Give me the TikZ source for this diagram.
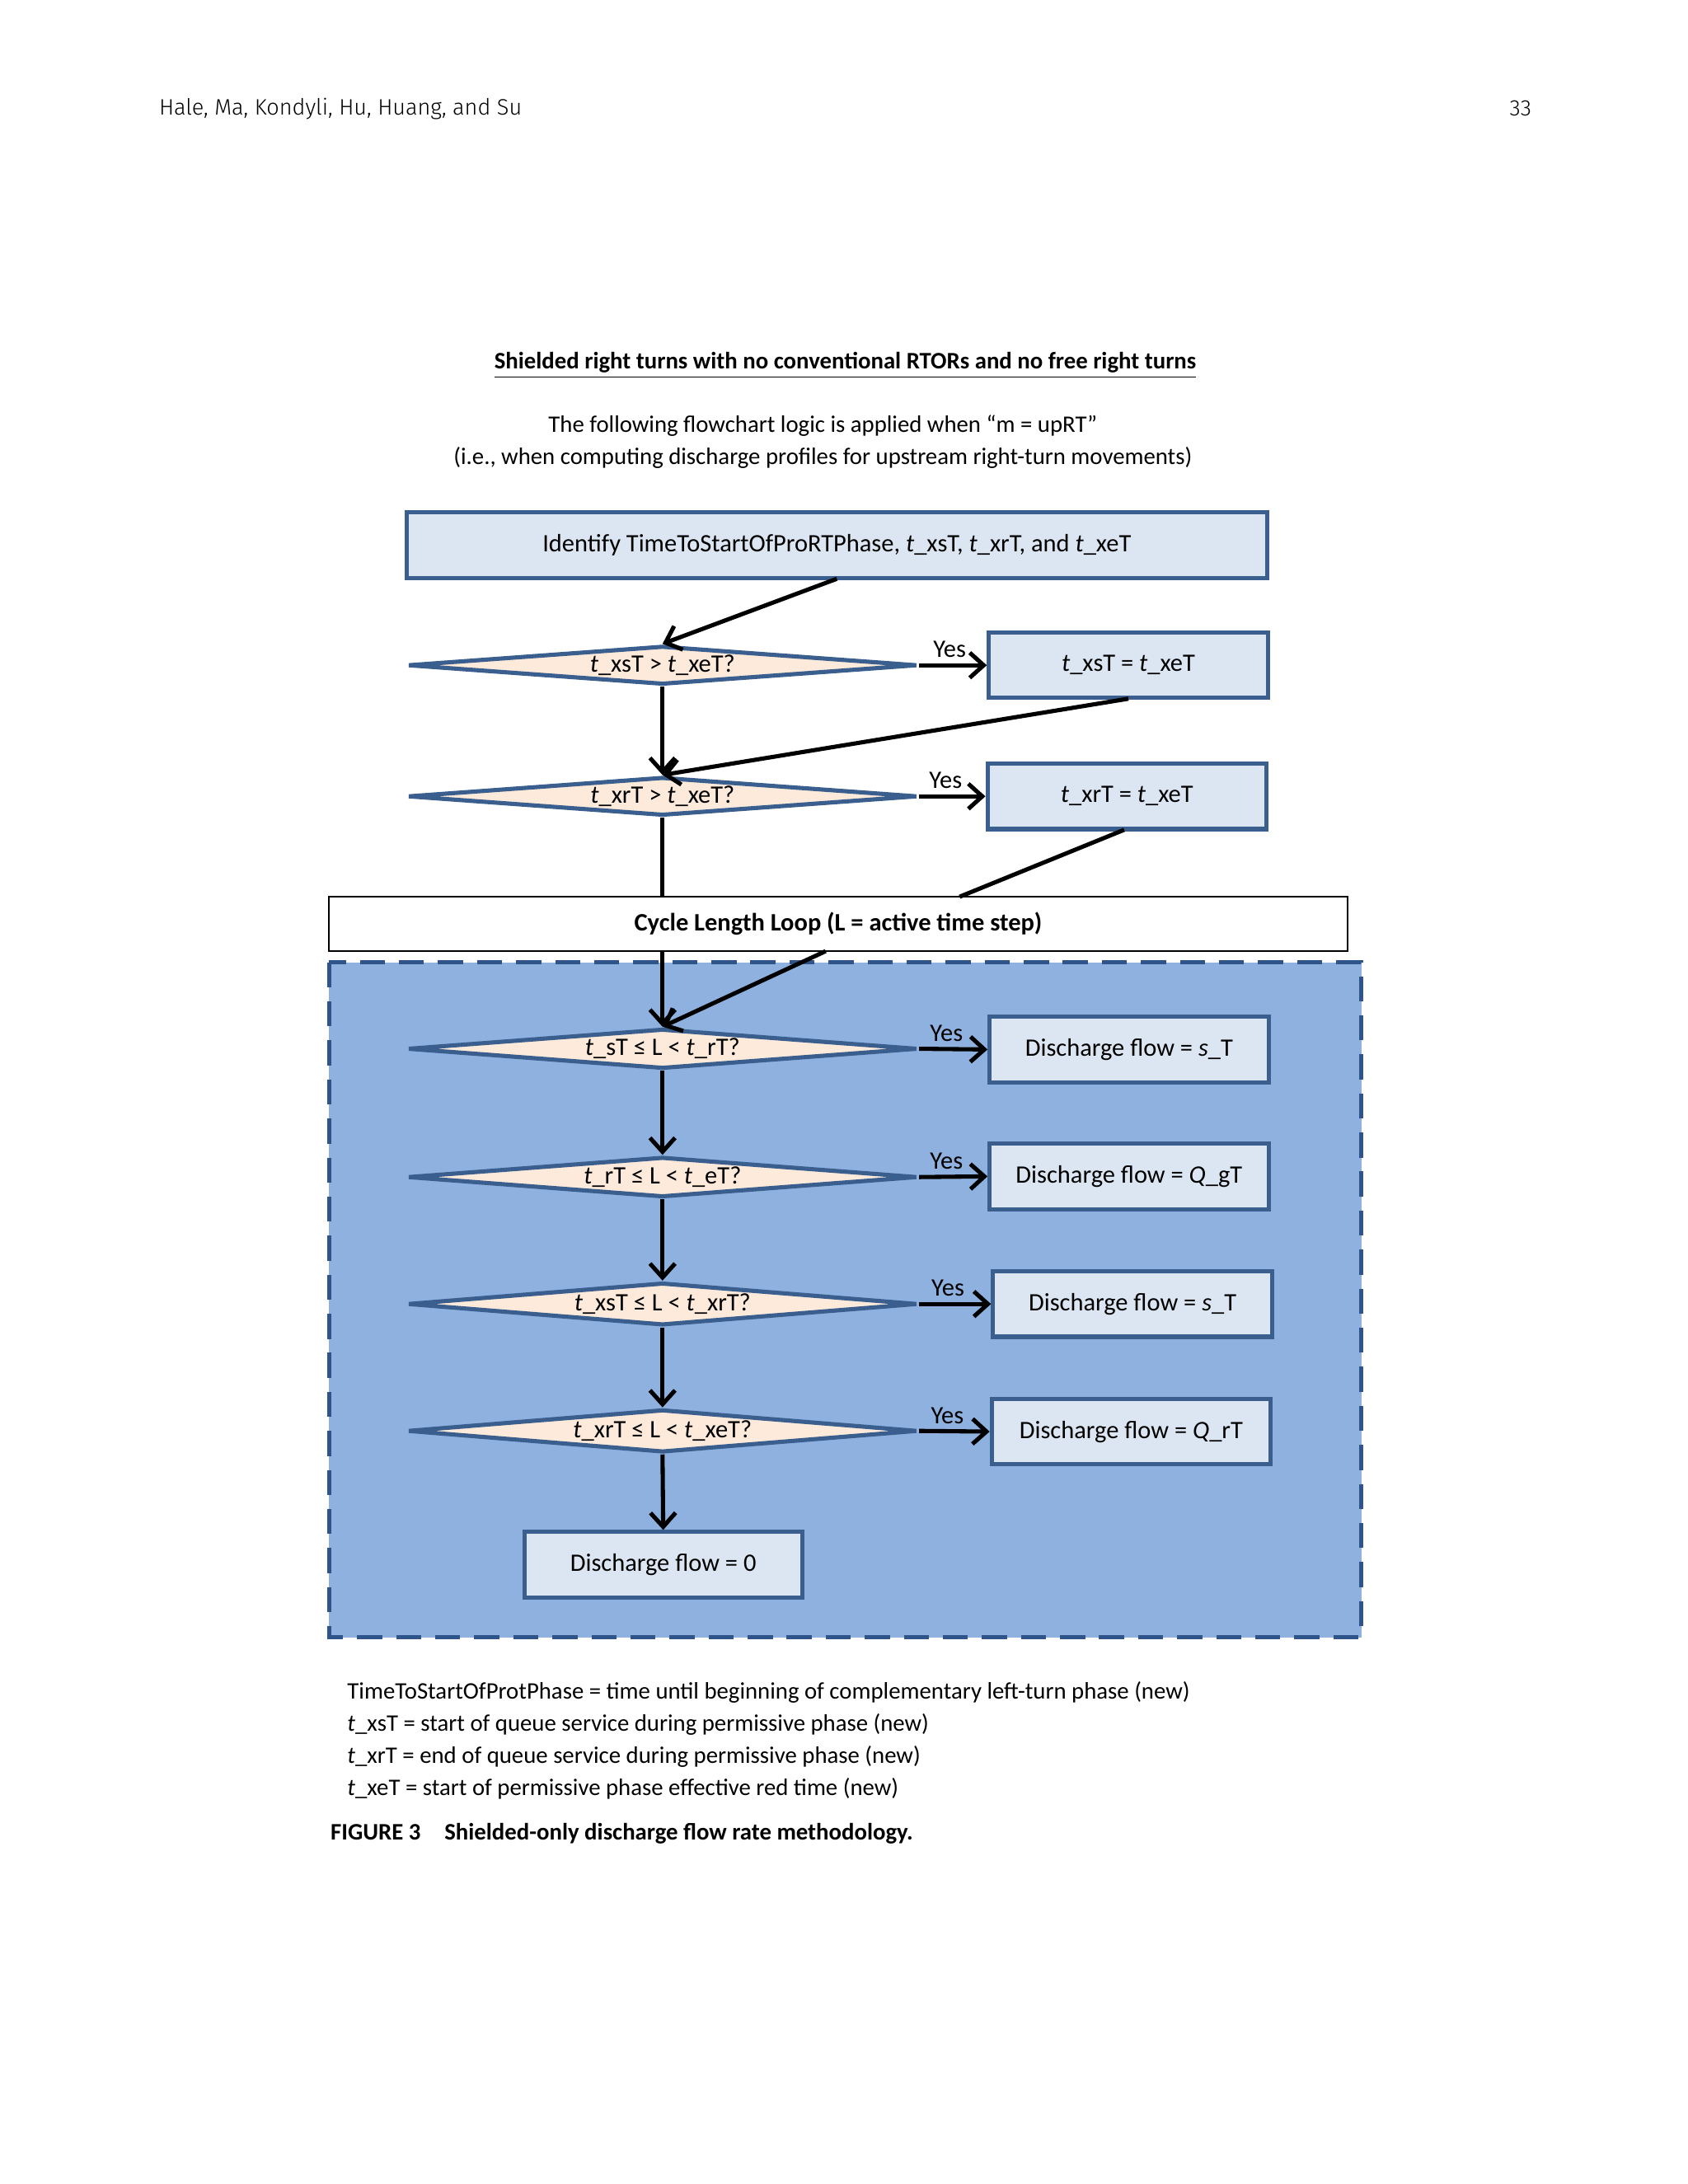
\documentclass[tikz,border=0pt]{standalone}
\usepackage{fontspec}
\setmainfont{Carlito}
\newfontfamily\headfont{Fira Sans Light}
\usetikzlibrary{shapes.geometric}
\usetikzlibrary{arrows.meta}
\definecolor{boxfill}{HTML}{DCE6F2}
\definecolor{decfill}{HTML}{FDEADA}
\definecolor{edge}{HTML}{3A5F8E}
\definecolor{loopfill}{HTML}{8EB1DF}
\definecolor{loopedge}{HTML}{2F5489}
\tikzstyle{action}=[draw=edge, line width=1.5pt, fill=boxfill, inner sep=0pt, minimum height=23.5pt, font=\fontsize{9}{11}\selectfont]
\tikzstyle{test}=[draw=edge, line width=1.5pt, fill=decfill, diamond, aspect=8, inner sep=0pt, minimum width=182.5pt, font=\fontsize{9}{11}\selectfont]
\tikzstyle{flow}=[line width=1.5pt, -{Straight Barb[length=5pt,width=9pt]}]
\tikzstyle{yes}=[above, font=\fontsize{9}{11}\selectfont, inner sep=2pt]
\newcommand{\ti}{\textit{t}}

\begin{document}
\begin{tikzpicture}[x=0.5pt, y=-0.5pt]
        \useasboundingbox (0,0) rectangle (1210,1566);
        \node[anchor=west, font=\headfont\fontsize{8}{10}\selectfont] (head) at (107,78) {Hale, Ma, Kondyli, Hu, Huang, and Su};
        \node[anchor=east, font=\headfont\fontsize{8}{10}\selectfont] (page) at (1105,78) {33};
        \node[font=\bfseries\fontsize{8.5}{10}\selectfont] (title) at (606,262) {\underline{Shielded right turns with no conventional RTORs and no free right turns}};
        \node[font=\fontsize{8.5}{11.5}\selectfont, align=center] (intro) at (590,317) {The following flowchart logic is applied when “m = upRT”\\(i.e., when computing discharge profiles for upstream right-turn movements)};
        % loop region
        \draw[loopedge, line width=1.5pt, dash pattern=on 9pt off 5pt, fill=loopfill] (236,690) rectangle (976,1174);
        \node[action, minimum width=308.5pt] (ident) at (600,391) {Identify TimeToStartOfProRTPhase, \ti\_xsT, \ti\_xrT, and \ti\_xeT};
        \node[test] (D1) at (475,477) {\ti\_xsT > \ti\_xeT?};
        \node[action, minimum width=100pt] (B1) at (809,477) {\ti\_xsT = \ti\_xeT};
        \node[test] (D2) at (475,571) {\ti\_xrT > \ti\_xeT?};
        \node[action, minimum width=100pt] (B2) at (808,571) {\ti\_xrT = \ti\_xeT};
        \node[draw, fill=white, line width=0.6pt, minimum width=365pt, minimum height=19.5pt, inner sep=0pt, font=\bfseries\fontsize{9}{11}\selectfont] (loop) at (601,662.5) {Cycle Length Loop (L = active time step)};
        \node[test] (D3) at (475,752) {\ti\_sT ≤ L < \ti\_rT?};
        \node[action, minimum width=100pt] (B3) at (809.5,752.5) {Discharge flow = \textit{s}\_T};
        \node[test] (D4) at (475,844) {\ti\_rT ≤ L < \ti\_eT?};
        \node[action, minimum width=100pt] (B4) at (809.5,843.5) {Discharge flow = \textit{Q}\_gT};
        \node[test] (D5) at (475,935) {\ti\_xsT ≤ L < \ti\_xrT?};
        \node[action, minimum width=100pt] (B5) at (812,935) {Discharge flow = \textit{s}\_T};
        \node[test] (D6) at (475,1026) {\ti\_xrT ≤ L < \ti\_xeT?};
        \node[action, minimum width=100pt] (B6) at (811,1026.5) {Discharge flow = \textit{Q}\_rT};
        \node[action, minimum width=99.5pt] (B7) at (475.5,1122) {Discharge flow = 0};
        % connectors
        \coordinate (identout) at (600,415);
        \coordinate (B1out) at (809,501);
        \coordinate (B2out) at (806,595);
        \coordinate (loopin) at (688,643);
        \coordinate (loopout) at (592,682);
        \draw[flow] (identout) -- (D1.north);
        \draw[flow] (D1.south) -- (D2.north);
        \draw[flow] (B1out) -- (D2.north);
        \draw[line width=1.5pt] (D2.south) -- (D2.south |- loop.north);
        \draw[line width=1.5pt] (B2out) -- (loopin);
        \draw[flow] (D2.south |- loop.south) -- (D3.north);
        \draw[flow] (loopout) -- (D3.north);
        \draw[flow] (D3.south) -- (D4.north);
        \draw[flow] (D4.south) -- (D5.north);
        \draw[flow] (D5.south) -- (D6.north);
        \draw[flow] (D6.south) -- (B7.north);
        \draw[flow] (D1.east) -- node[yes, pos=0.45] {Yes} (B1.west);
        \draw[flow] (D2.east) -- node[yes, pos=0.4] {Yes} (B2.west);
        \draw[flow] (D3.east) -- node[yes, pos=0.4] {Yes} (B3.west);
        \draw[flow] (D4.east) -- node[yes, pos=0.4] {Yes} (B4.west);
        \draw[flow] (D5.east) -- node[yes, pos=0.4] {Yes} (B5.west);
        \draw[flow] (D6.east) -- node[yes, pos=0.4] {Yes} (B6.west);
        % legend and caption
        \node[anchor=north west, align=left, font=\fontsize{8.5}{11.5}\selectfont] (legend) at (242,1199) {TimeToStartOfProtPhase = time until beginning of complementary left-turn phase (new)\\\ti\_xsT = start of queue service during permissive phase (new)\\\ti\_xrT = end of queue service during permissive phase (new)\\\ti\_xeT = start of permissive phase effective red time (new)};
        \node[anchor=west, font=\bfseries\fontsize{8.5}{10}\selectfont] (caption) at (230,1315) {FIGURE 3\quad Shielded-only discharge flow rate methodology.};
    \end{tikzpicture}
\end{document}
